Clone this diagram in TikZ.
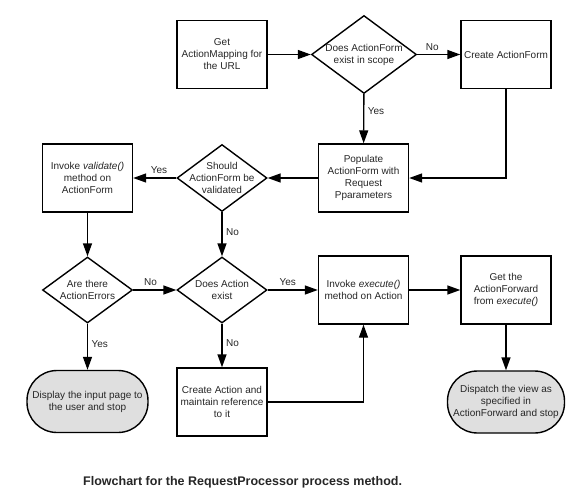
\documentclass[tikz,border=0pt]{standalone}
\usepackage{fontspec}
\setmainfont{Liberation Sans}
\usetikzlibrary{shapes.geometric, arrows.meta}
\tikzset{
    every node/.style={font=\fontsize{10}{12}\selectfont, text=black!85},
    procbox/.style={draw, line width=1.4pt, minimum width=90pt,
        minimum height=68pt, align=center, inner sep=2pt},
    decision/.style={draw, diamond, line width=1.4pt, inner sep=0pt},
    dtext/.style={align=center, inner sep=0pt},
    terminal/.style={draw, line width=1.4pt, fill=gray!25,
        rounded corners=30pt, align=center, minimum height=62pt},
    flow/.style={line width=1.4pt, -{Triangle[length=13pt, width=9pt]}},
    captext/.style={font=\fontsize{12.5}{14}\selectfont\bfseries, inner sep=0pt},
}
\begin{document}
\begin{tikzpicture}[x=1pt, y=-1pt]
    \useasboundingbox (0, 0) rectangle (576, 491);
    % top row
    \node[procbox] (getmap) at (222, 54.5) {Get\\ActionMapping for\\the URL};
    \node[decision, minimum width=105pt, minimum height=78pt,
        label={[dtext]center:Does ActionForm\\exist in scope}] (formexists) at (364, 54.5) {};
    \node[procbox] (createform) at (506, 54.5) {Create ActionForm};
    % second row
    \node[procbox] (populate) at (363.5, 178) {Populate\\ActionForm with\\Request\\Pparameters};
    \node[decision, minimum width=90pt, minimum height=67pt,
        label={[dtext]center:Should\\ActionForm be\\validated}] (shouldval) at (222, 178) {};
    \node[procbox] (validate) at (87.5, 178) {Invoke \textit{validate()}\\method on\\ActionForm};
    % third row
    \node[decision, minimum width=90pt, minimum height=66pt,
        label={[dtext]center:Are there\\ActionErrors}] (errors) at (87.5, 290) {};
    \node[decision, minimum width=90pt, minimum height=66pt,
        label={[dtext]center:Does Action\\exist}] (actexists) at (222, 290) {};
    \node[procbox] (execute) at (363.5, 290) {Invoke \textit{execute()}\\method on Action};
    \node[procbox] (getfwd) at (506, 290) {Get the\\ActionForward\\from \textit{execute()}};
    % bottom row
    \node[terminal, minimum width=121pt] (display) at (87.5, 401.5)
        {Display the input page to\\the user and stop};
    \node[procbox] (createact) at (222, 402) {Create Action and\\maintain reference\\to it};
    \node[terminal, minimum width=117pt] (dispatch) at (506, 402)
        {Dispatch the view as\\specified in\\ActionForward and stop};

    \draw[flow] (getmap) -- (formexists);
    \draw[flow] (formexists) -- node[above, pos=.35] {No} (createform);
    \draw[flow] (formexists) -- node[right, pos=.35] {Yes} (populate);
    \draw[flow] (createform) |- (populate);
    \draw[flow] (populate) -- (shouldval);
    \draw[flow] (shouldval) -- node[above, pos=.4] {Yes} (validate);
    \draw[flow] (shouldval) -- node[right, pos=.45] {No} (actexists);
    \draw[flow] (validate) -- (errors);
    \draw[flow] (errors) -- node[above, pos=.4] {No} (actexists);
    \draw[flow] (errors) -- node[right, pos=.45] {Yes} (display);
    \draw[flow] (actexists) -- node[above, pos=.4] {Yes} (execute);
    \draw[flow] (actexists) -- node[right, pos=.45] {No} (createact);
    \draw[flow] (createact) -| (execute);
    \draw[flow] (execute) -- (getfwd);
    \draw[flow] (getfwd) -- (dispatch);

    \node[captext, anchor=west] (caption) at (83, 482)
        {Flowchart for the RequestProcessor process method.};
\end{tikzpicture}
\end{document}
